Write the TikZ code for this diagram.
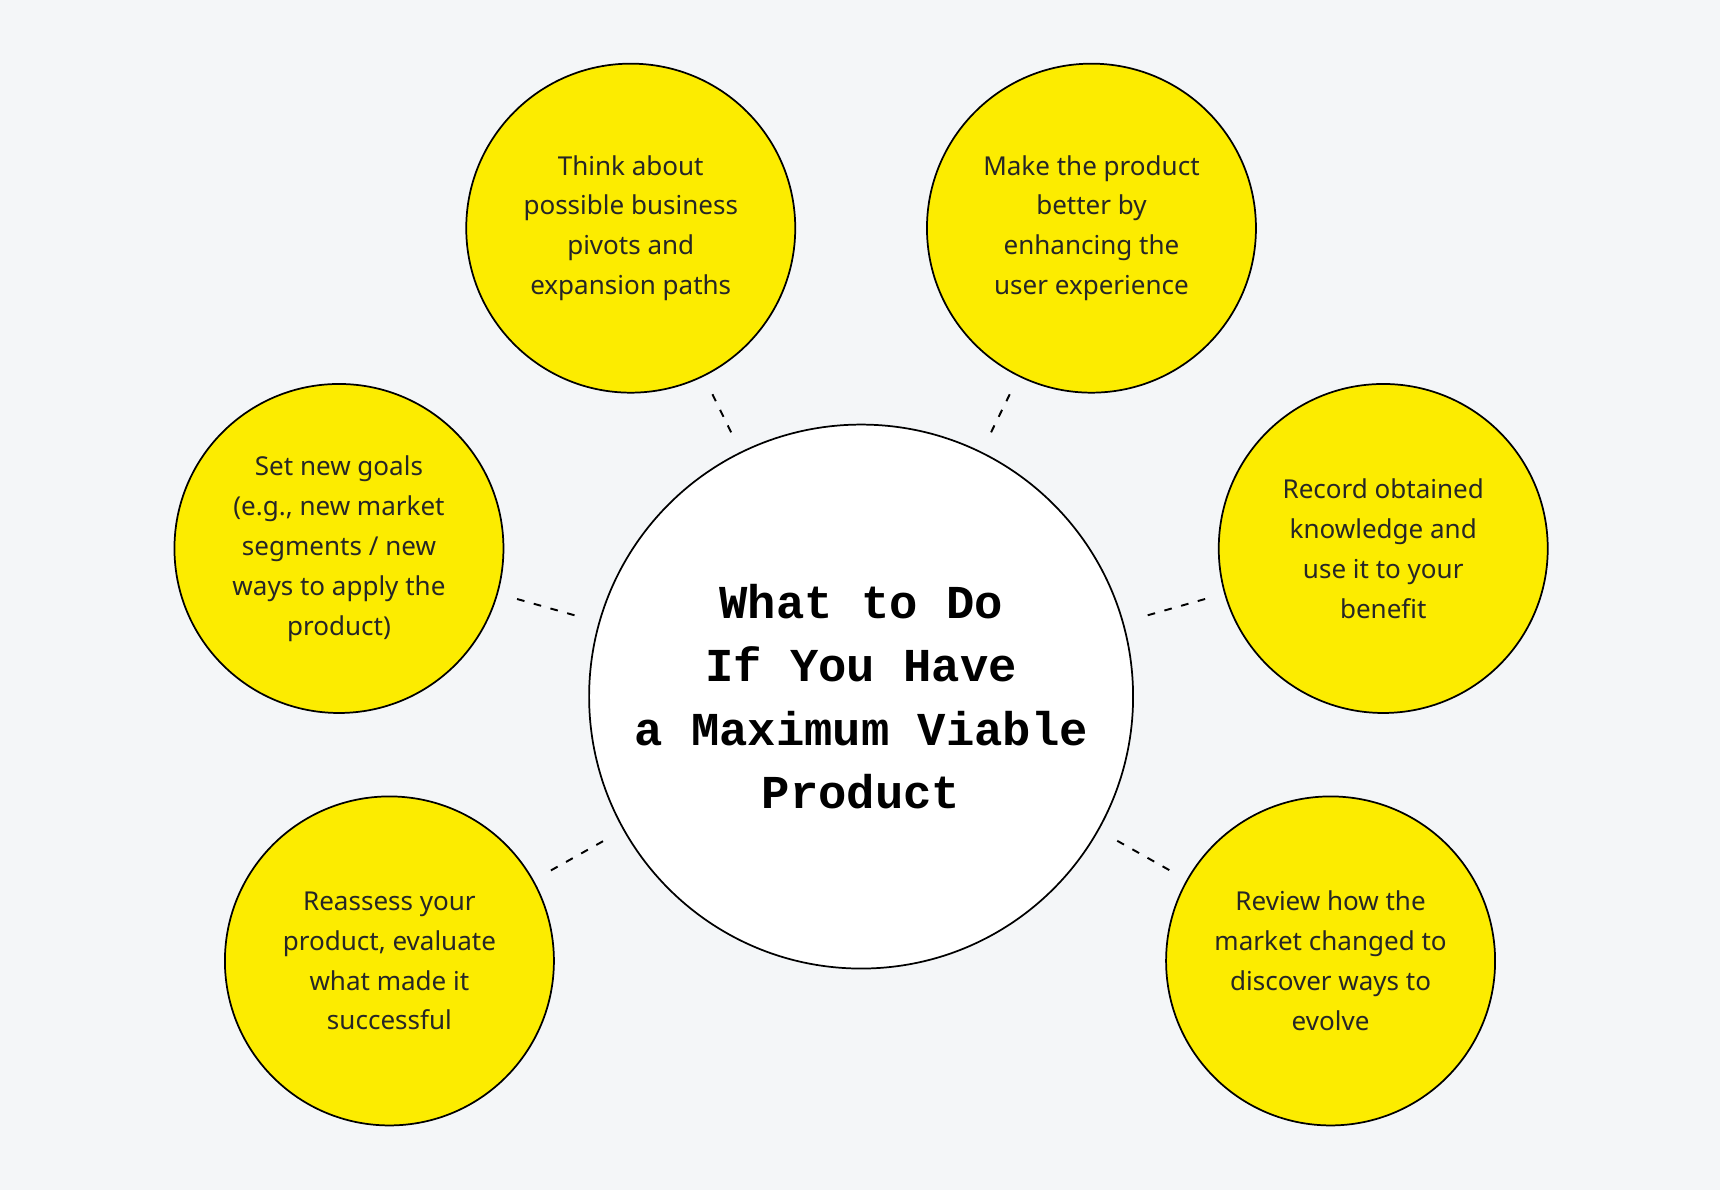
\documentclass[tikz,border=0pt]{standalone}
\usepackage{fontspec}
\setmainfont{Noto Sans}
\newfontfamily\titlefont{Liberation Mono}
\definecolor{bg}{HTML}{F4F6F8}
\definecolor{yel}{HTML}{FCEC00}
\begin{document}
\begin{tikzpicture}[x=0.02cm,y=-0.02cm,
  sat/.style={circle,draw=black,line width=0.9pt,fill=yel,minimum size=6cm,inner sep=0pt,
    align=center,font=\fontsize{13.5}{20.7}\selectfont,text=black!85},
  hub/.style={circle,draw=black,line width=0.9pt,fill=white,minimum size=9.92cm,inner sep=0pt,
    align=center,font=\titlefont\bfseries\fontsize{24.5}{33}\selectfont},
  link/.style={line width=1pt,dash pattern=on 4pt off 5pt,shorten <=0.36cm,shorten >=0.36cm}]
\fill[bg] (0,0) rectangle (1568,1085);
\useasboundingbox (0,0) rectangle (1568,1085);
\node[hub] (c) at (785,635) {What to Do\\If You Have\\a Maximum Viable\\Product};
\node[sat] (tl) at (575,208) {Think about\\possible \textbf{business}\\\textbf{pivots} and\\\textbf{expansion paths}};
\node[sat] (tr) at (995,208) {Make the product\\better by\\enhancing the\\\textbf{user experience}};
\node[sat] (l) at (309,500) {Set \textbf{new goals}\\(e.g., new market\\segments / new\\ways to apply the\\product)};
\node[sat] (r) at (1261,500) {Record \textbf{obtained}\\\textbf{knowledge} and\\use it to your\\benefit};
\node[sat] (bl) at (355,876) {\textbf{Reassess} your\\product, \textbf{evaluate}\\what made it\\successful};
\node[sat] (br) at (1213,876) {Review \textbf{how the}\\\textbf{market changed} to\\discover ways to\\evolve};
\foreach \n in {tl,tr,l,r,bl,br} \draw[link] (\n) -- (c);
\end{tikzpicture}
\end{document}
